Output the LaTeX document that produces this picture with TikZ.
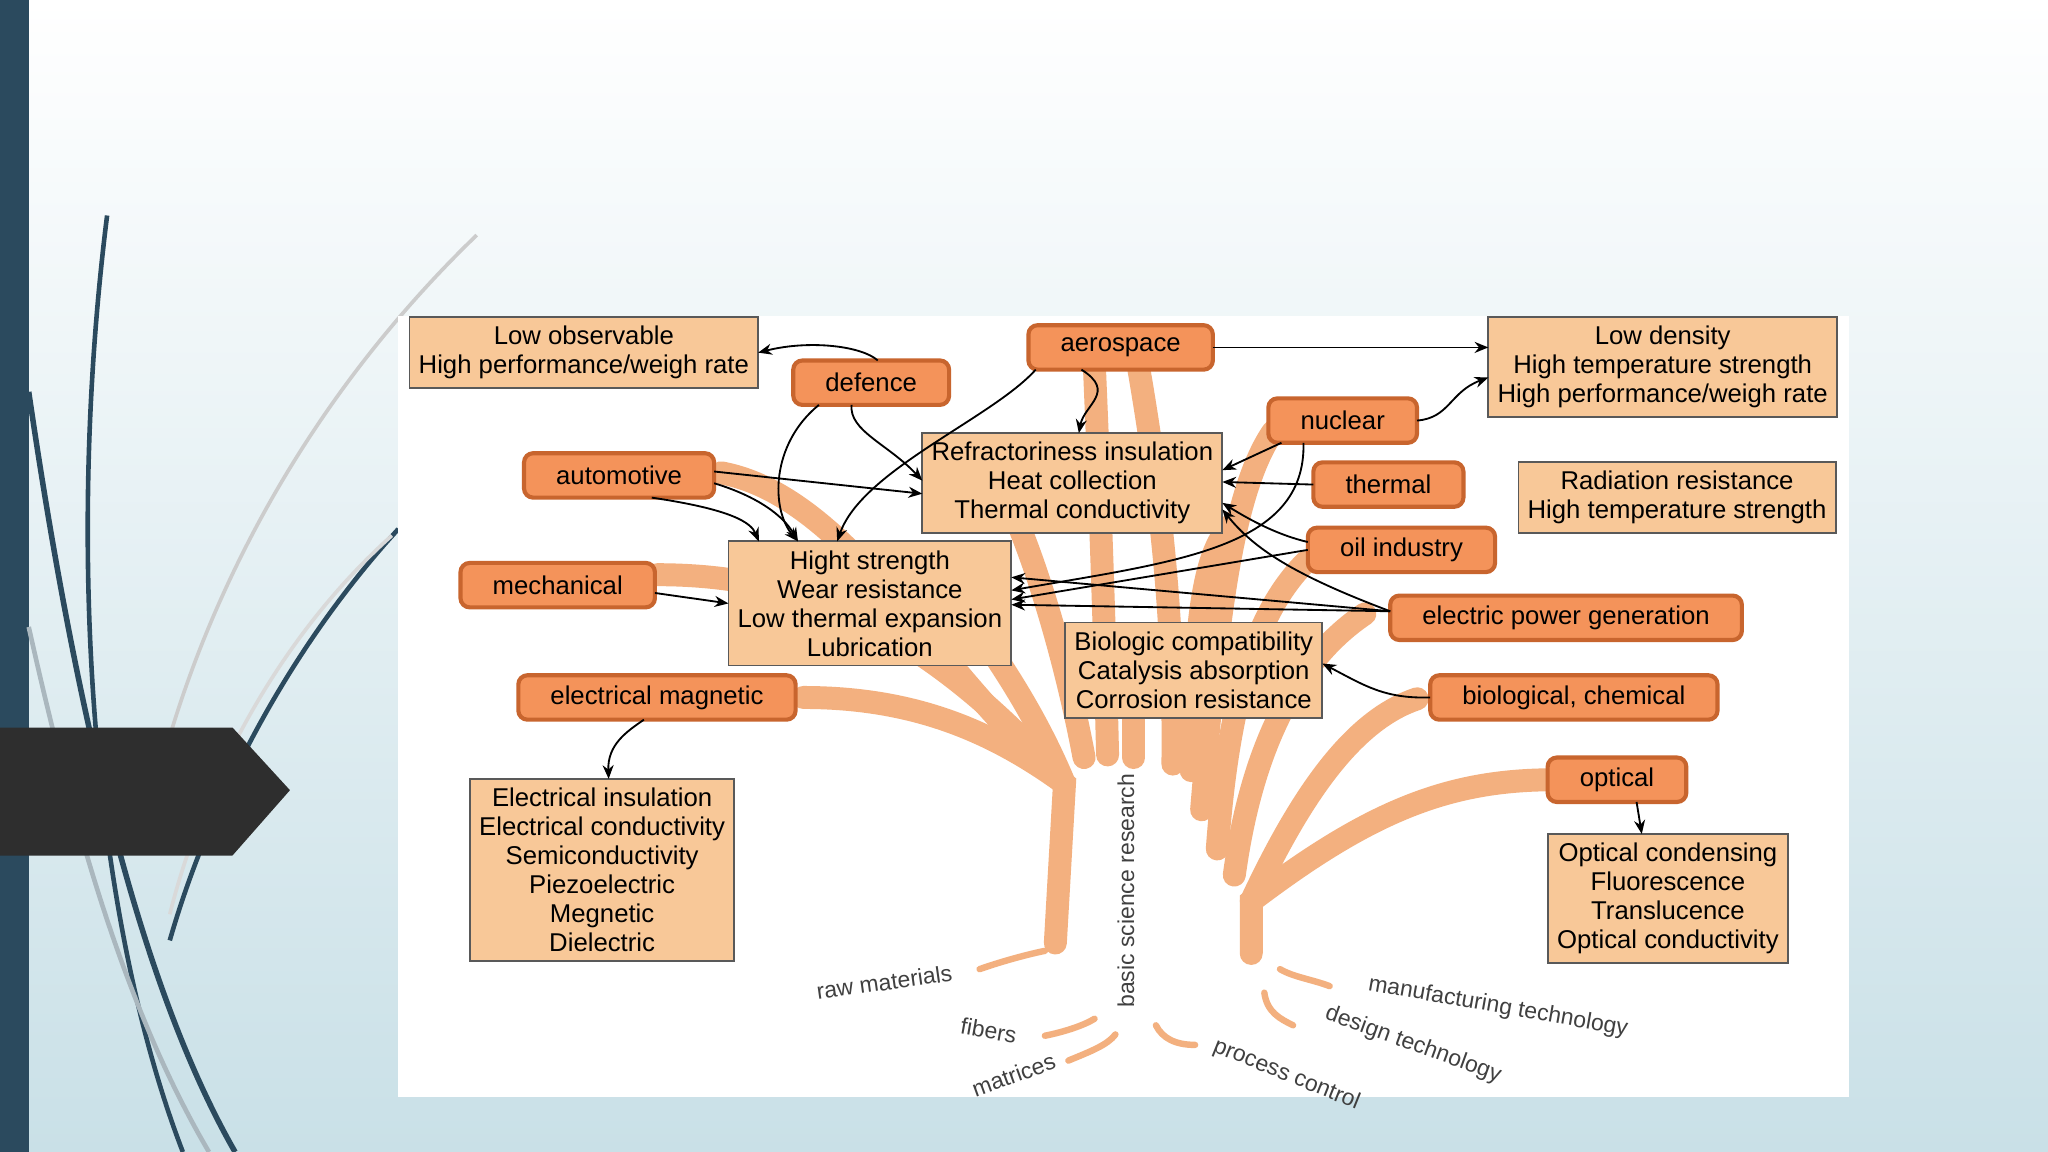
\documentclass[tikz,border=0pt]{standalone}
\usepackage{fontspec}
\setmainfont{Liberation Sans}
\usetikzlibrary{positioning,arrows.meta}
\definecolor{slidedark}{HTML}{2B4A5E}
\definecolor{slidelight}{HTML}{C9E0E7}
\definecolor{appfill}{HTML}{F4935A}
\definecolor{appdraw}{HTML}{C8652E}
\definecolor{boxfill}{HTML}{F8C898}
\definecolor{branch}{HTML}{F3B07F}
\begin{document}
\begin{tikzpicture}[x=0.01cm, y=-0.01cm,
  >={Stealth[length=3pt,width=2.4pt]}, %
  inner sep=1pt, outer sep=0pt,%
  app/.style={draw=appdraw,fill=appfill,rounded corners=2pt,line width=0.9pt,
    minimum height=0.34cm,inner xsep=7pt,font=\fontsize{5.6}{6.5}\selectfont},
  prop/.style={draw=gray!70!black,fill=boxfill,align=center,inner sep=2pt,
    font=\fontsize{5.6}{6.3}\selectfont},
  link/.style={->,thin,black},
  tree/.style={branch,line width=5pt,line cap=round},
  twig/.style={branch,line width=1.4pt,line cap=round},
  lbl/.style={font=\fontsize{5}{6}\selectfont,text=black!75}]

% slide background
\useasboundingbox (0,0) rectangle (1568,882);
\shade[top color=white,bottom color=slidelight] (0,0) rectangle (1568,882);
\fill[slidedark] (0,0) rectangle (22,882);
\draw[slidedark,line width=1pt] (82,165) .. controls (50,420) and (70,700) .. (140,882);
\draw[slidedark,line width=1.2pt] (22,300) .. controls (60,560) and (110,760) .. (180,882);
\draw[slidedark!40,line width=1pt] (22,480) .. controls (60,650) and (100,780) .. (160,882);
\draw[slidedark,line width=1pt] (305,405) .. controls (200,520) and (150,650) .. (130,720);
\draw[gray!40,line width=0.8pt] (365,180) .. controls (220,320) and (150,480) .. (120,600);
\draw[gray!30,line width=0.8pt] (300,410) .. controls (200,500) and (150,620) .. (130,700);
\fill[black!82] (0,557) -- (178,557) -- (222,605) -- (178,655) -- (0,655) -- cycle;
\fill[white] (305,242) rectangle (1416,840);

% tree
\draw[tree] (808,722) -- (815,600) .. controls (720,520) and (650,380) .. (552,362);
\draw[tree] (815,600) .. controls (700,470) and (600,440) .. (503,440);
\draw[tree] (815,600) .. controls (760,560) and (700,534) .. (615,534);
\draw[tree] (815,600) .. controls (790,540) and (760,500) .. (740,470);
\draw[tree] (830,580) .. controls (815,500) and (790,420) .. (770,380);
\draw[tree] (848,578) .. controls (845,450) and (840,330) .. (838,283);
\draw[tree] (868,580) -- (868,500);
\draw[tree] (898,585) .. controls (900,450) and (880,330) .. (872,283);
\draw[tree] (958,730) -- (958,690) .. controls (1050,620) and (1110,597) .. (1190,597);
\draw[tree] (958,690) .. controls (1000,600) and (1040,550) .. (1085,535);
\draw[tree] (945,670) .. controls (960,560) and (1000,500) .. (1045,470);
\draw[tree] (932,650) .. controls (940,540) and (960,470) .. (1000,430);
\draw[tree] (920,620) .. controls (930,500) and (940,380) .. (975,330);
\draw[tree] (912,590) .. controls (915,480) and (920,420) .. (945,400);

% boxes
\node[prop] (lowobs) at (447,270) {Low observable\\High performance/weigh rate};
\node[prop] (lowdens) at (1273,281) {Low density\\High temperature strength\\High performance/weigh rate};
\node[prop] (radres) at (1284,381) {Radiation resistance\\High temperature strength};
\node[prop] (refr) at (821,370) {Refractoriness insulation\\Heat collection\\Thermal conductivity};
\node[prop] (hight) at (666,462) {Hight strength\\Wear resistance\\Low thermal expansion\\Lubrication};
\node[prop] (biocomp) at (914,513) {Biologic compatibility\\Catalysis absorption\\Corrosion resistance};
\node[prop] (elecprop) at (461,666) {Electrical insulation\\Electrical conductivity\\Semiconductivity\\Piezoelectric\\Megnetic\\Dielectric};
\node[prop] (optprop) at (1277,688) {Optical condensing\\Fluorescence\\Translucence\\Optical conductivity};

% applications
\node[app] (defence) at (667,293) {defence};
\node[app] (aerospace) at (858,266) {aerospace};
\node[app] (automotive) at (474,364) {automotive};
\node[app] (mechanical) at (427,448) {mechanical};
\node[app] (electrical) at (503,534) {electrical magnetic};
\node[app] (nuclear) at (1028,322) {nuclear};
\node[app] (thermal) at (1063,371) {thermal};
\node[app] (oil) at (1073,421) {oil industry};
\node[app] (power) at (1199,473) {electric power generation};
\node[app] (biochem) at (1205,534) {biological, chemical};
\node[app] (optical) at (1238,597) {optical};

% links
\draw[link] ([xshift=0.05cm]defence.north) .. controls (660,265) and (620,260) .. (lowobs.east);
\draw[link] (aerospace.east) -- (lowdens.west |- aerospace.east);
\draw[link] (nuclear.east) .. controls (1110,320) and (1110,300) .. ([yshift=-0.08cm]lowdens.west);
\draw[link] ([xshift=-0.15cm]defence.south) .. controls (650,330) and (680,340) .. ([yshift=0.02cm]refr.west);
\draw[link] ([xshift=-0.4cm]defence.south) .. controls (590,340) and (590,390) .. ([xshift=-0.55cm]hight.north);
\draw[link] ([xshift=-0.3cm]aerospace.south) .. controls (855,300) and (830,310) .. ([xshift=0.05cm]refr.north);
\draw[link] ([xshift=-0.65cm]aerospace.south) .. controls (760,320) and (660,360) .. ([xshift=-0.25cm]hight.north);
\draw[link] ([yshift=0.03cm]automotive.east) -- ([yshift=-0.08cm]refr.west);
\draw[link] ([yshift=-0.06cm]automotive.east) .. controls (580,380) and (600,395) .. ([xshift=-0.55cm]hight.north);
\draw[link] ([xshift=0.25cm]automotive.south) .. controls (560,390) and (575,400) .. ([xshift=-0.85cm]hight.north);
\draw[link] ([yshift=-0.06cm]mechanical.east) -- (hight.west);
\draw[link] ([xshift=0.1cm]nuclear.south west) -- ([yshift=0.1cm]refr.east);
\draw[link] ([xshift=-0.3cm]nuclear.south) .. controls (1000,420) and (900,430) .. ([yshift=0.1cm]hight.east);
\draw[link] (thermal.west) -- ([yshift=0.01cm]refr.east);
\draw[link] ([yshift=0.06cm]oil.west) .. controls (980,410) and (960,400) .. ([yshift=-0.15cm]refr.east);
\draw[link] (oil.west) -- ([yshift=0.03cm]hight.east);
\draw[link] ([yshift=0.05cm]power.west) .. controls (990,440) and (960,420) .. ([yshift=-0.2cm]refr.east);
\draw[link] ([yshift=0.05cm]power.west) -- ([yshift=-0.01cm]hight.east);
\draw[link] ([yshift=0.05cm]power.west) -- ([yshift=0.2cm]hight.east);
\draw[link] (biochem.west) .. controls (1060,535) and (1045,525) .. ([yshift=0.05cm]biocomp.east);
\draw[link] ([xshift=-0.1cm]electrical.south) .. controls (480,560) and (465,570) .. ([xshift=0.05cm]elecprop.north);
\draw[link] ([xshift=0.15cm]optical.south) -- ([xshift=-0.2cm]optprop.north);

% roots
\node[lbl,rotate=90] (basic) at (862,682) {basic science research};
\node[lbl,rotate=8] (raw) at (677,752) {raw materials};
\node[lbl,rotate=-10] (fibers) at (757,789) {fibers};
\node[lbl,rotate=20] (matrices) at (776,823) {matrices};
\node[lbl,rotate=-22] (process) at (985,823) {process control};
\node[lbl,rotate=-20] (design) at (1082,800) {design technology};
\node[lbl,rotate=-10] (manuf) at (1147,771) {manufacturing technology};
\draw[twig] (750,742) .. controls (770,735) and (790,730) .. (800,728);
\draw[twig] (800,793) .. controls (815,790) and (830,785) .. (838,780);
\draw[twig] (818,812) .. controls (835,805) and (848,800) .. (854,792);
\draw[twig] (885,785) .. controls (890,795) and (900,800) .. (915,800);
\draw[twig] (968,760) .. controls (970,775) and (980,780) .. (990,785);
\draw[twig] (980,742) .. controls (990,748) and (1005,750) .. (1018,755);
\end{tikzpicture}
\end{document}
